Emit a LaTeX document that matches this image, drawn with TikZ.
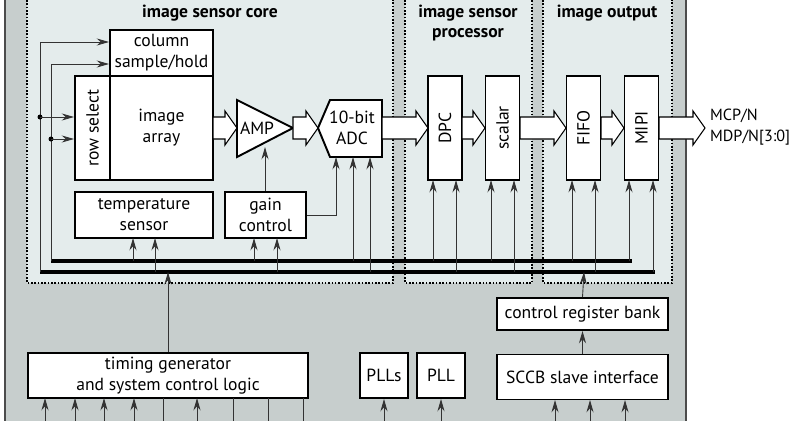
\documentclass[tikz,border=0pt]{standalone}
\usepackage{fontspec}
\setmainfont{PT Sans}
\usetikzlibrary{arrows.meta}
\definecolor{chipgray}{HTML}{C7CECD}
\definecolor{panel}{HTML}{E4ECEC}
\tikzset{
  box/.style={draw, line width=1.1pt, fill=white, align=center, inner sep=1pt, font=\fontsize{10}{12}\selectfont},
  sig/.style={black!80, line width=0.5pt, -{Stealth[length=7pt,width=4pt]}},
  bus/.style={line width=1.8pt},
  panelbox/.style={fill=panel, draw, densely dotted, line width=0.9pt},
  title/.style={font=\bfseries\fontsize{10}{11.5}\selectfont, align=center},
}
\newcommand{\widearr}[2]{% from x #1 to x #2
  \draw[fill=white, line width=0.6pt] (#1,117) -- (#2-12,117) -- (#2-12,111) -- (#2,128)
    -- (#2-12,145) -- (#2-12,139) -- (#1,139) -- cycle;}
\begin{document}
\begin{tikzpicture}[x=0.02cm, y=-0.02cm]
	\useasboundingbox (0,0) rectangle (800,420);
	% chip and panels
	\draw[fill=chipgray, draw=black!70, line width=1pt] (5,-10) rectangle (686,430);
	\draw[panelbox] (27,-10) rectangle (393,283);
	\draw[panelbox] (405,-10) rectangle (532,283);
	\draw[panelbox] (543,-10) rectangle (672,283);
	\node[title] (tcore) at (210,13) {image sensor core};
	\node[title] (tisp) at (468,23) {image sensor\\processor};
	\node[title] (tout) at (607,13) {image output};

	% image sensor core
	\node[box, minimum width=2.06cm, minimum height=0.92cm] (col) at (161.5,53) {column\\sample/hold};
	\node[box, minimum width=0.7cm, minimum height=2.08cm] (rowsel) at (92.5,128) {\rotatebox{90}{row select}};
	\node[box, minimum width=2.06cm, minimum height=2.08cm] (arr) at (161.5,128) {image\\array};
	\node[box, minimum width=2.76cm, minimum height=0.92cm] (temp) at (144,215) {temperature\\sensor};
	\node[box, minimum width=1.62cm, minimum height=0.92cm] (gain) at (265.5,215) {gain\\control};
	\draw[fill=white, line width=1.1pt] (237,100) -- (293,128) -- (237,157) -- cycle;
	\node[font=\fontsize{10}{12}\selectfont] (amp) at (257,128) {AMP};
	\draw[fill=white, line width=1.1pt] (330,100) -- (382,100) -- (382,157) -- (330,157) -- (318,128) -- cycle;
	\node[font=\fontsize{10}{12}\selectfont, align=center] (adc) at (352,128) {10-bit\\ADC};

	% processor and output
	\foreach \n/\x/\t in {dpc/445/DPC, scal/502.5/scalar, fifo/583.5/FIFO, mipi/641.5/MIPI}
		\node[box, minimum width=0.68cm, minimum height=2.08cm] (\n) at (\x,128) {\rotatebox{90}{\t}};

	% wide data arrows
	\widearr{213}{237}
	\widearr{293}{318}
	\widearr{382}{428}
	\widearr{462}{485}
	\widearr{520}{566}
	\widearr{601}{624}
	\widearr{659}{705}
	\node[anchor=west, align=left, inner sep=1pt, font=\fontsize{9.2}{11.5}\selectfont] (out) at (708,127) {MCP/N\\MDP/N[3:0]};

	% bottom blocks
	\node[box, minimum width=3.42cm, minimum height=0.64cm] (reg) at (582.5,314) {control register bank};
	\node[box, minimum width=3.42cm, minimum height=0.9cm] (sccb) at (582.5,377) {SCCB slave interface};
	\node[box, minimum width=5.6cm, minimum height=0.9cm] (tg) at (168,375.5) {timing generator\\and system control logic};
	\node[box, minimum width=0.96cm, minimum height=0.9cm] (plls) at (384,375.5) {PLLs};
	\node[box, minimum width=0.96cm, minimum height=0.9cm] (pll) at (441,375.5) {PLL};

	% buses
	\coordinate (busA) at (51,261);
	\coordinate (busB) at (40,272);
	\draw[bus] (busA) -- (632,261);
	\draw[bus] (busB) -- (655,272);
	\draw[sig] (busB) |- (col.west |- 0,42);
	\draw[sig] (busA) |- (col.west |- 0,64);
	\fill (40,117) circle (2.5) (51,139) circle (2.5);
	\draw[sig] (40,117) -- (rowsel.west |- 0,117);
	\draw[sig] (51,139) -- (rowsel.west |- 0,139);
	\foreach \x/\y in {133/238, 254/238, 353/157, 433/180, 491/180, 572/180, 629/180}
		\draw[sig] (\x,261) -- (\x,\y);
	\foreach \x/\y in {155/238, 277/238, 370/157, 456/180, 514/180, 595/180, 653/180}
		\draw[sig] (\x,272) -- (\x,\y);
	\draw[sig] (gain.north -| 265,0) -- (265,147);
	\draw[sig] (gain.east) -| (336,157);
	\draw[sig] (tg.north) -- (168,272);
	\draw[sig] (sccb.north) -- (reg.south);
	\draw[sig] (reg.north) -- (584,272);

	% external pins
	\foreach \x in {45,75,104,134,197}
		\draw[sig] (\x,425) -- (\x,398);
	\foreach \x in {163,233,268,303}
		\draw[black!80] (\x,425) -- (\x,398);
	\draw[sig] (384,425) -- (plls.south);
	\draw[sig] (441,425) -- (pll.south);
	\foreach \x in {555,590,625}
		\draw[sig] (\x,425) -- (\x,400);
\end{tikzpicture}
\end{document}
